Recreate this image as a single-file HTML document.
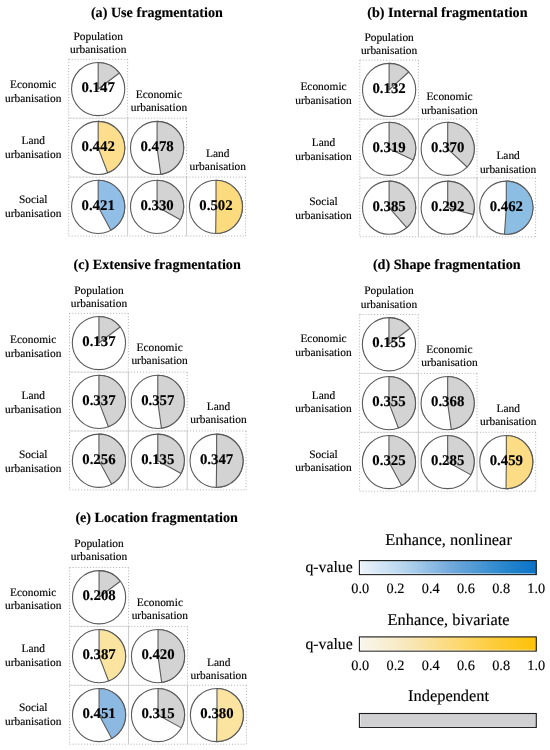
<!DOCTYPE html>
<html><head><meta charset="utf-8"><style>
html,body{margin:0;padding:0;background:#fff;width:550px;height:750px;overflow:hidden;}
svg{display:block;will-change:transform;}
text{font-family:"Liberation Serif", serif;text-rendering:geometricPrecision;}
.uh,.uv{stroke:#a4a4a4;stroke-width:0.85;stroke-dasharray:1 1.9;}
.sh{stroke:#a8a8a8;stroke-width:0.9;stroke-dasharray:0.8 0.65;}
.sv{stroke:#cbcbcb;stroke-width:1;}
text{stroke:#000;stroke-width:0.15px;paint-order:stroke;}
</style></head><body>
<svg width="550" height="750" viewBox="0 0 550 750" font-family='"Liberation Serif", serif' fill="#000"><defs>
<linearGradient id="gb" x1="0" x2="1" y1="0" y2="0"><stop offset="0" stop-color="#eef4fb"/><stop offset="0.26" stop-color="#b4d4ee"/><stop offset="0.51" stop-color="#73aadc"/><stop offset="0.82" stop-color="#2887cd"/><stop offset="1" stop-color="#0a72c8"/></linearGradient>
<linearGradient id="gy" x1="0" x2="1" y1="0" y2="0"><stop offset="0" stop-color="#f8f6ee"/><stop offset="0.26" stop-color="#f8e8bd"/><stop offset="0.51" stop-color="#fcdb7c"/><stop offset="0.82" stop-color="#fec92c"/><stop offset="1" stop-color="#fec207"/></linearGradient>
</defs><text x="90.88" y="17.10" font-size="14.15" font-weight="bold" text-anchor="start">(a) Use fragmentation</text>
<line x1="68.70" y1="59.30" x2="127.63" y2="59.30" class="uh"/>
<line x1="68.70" y1="118.20" x2="127.63" y2="118.20" class="sh"/>
<line x1="127.63" y1="118.20" x2="186.56" y2="118.20" class="uh"/>
<line x1="68.70" y1="177.10" x2="186.56" y2="177.10" class="sh"/>
<line x1="186.56" y1="177.10" x2="245.49" y2="177.10" class="uh"/>
<line x1="68.70" y1="236.00" x2="245.49" y2="236.00" class="uh"/>
<line x1="68.70" y1="59.30" x2="68.70" y2="236.00" class="uv"/>
<line x1="127.63" y1="59.30" x2="127.63" y2="118.20" class="uv"/>
<line x1="127.63" y1="118.20" x2="127.63" y2="236.00" class="sv"/>
<line x1="186.56" y1="118.20" x2="186.56" y2="177.10" class="uv"/>
<line x1="186.56" y1="177.10" x2="186.56" y2="236.00" class="sv"/>
<line x1="245.49" y1="177.10" x2="245.49" y2="236.00" class="uv"/>
<text x="98.17" y="39.60" font-size="11.42" text-anchor="middle">Population</text>
<text x="98.17" y="53.00" font-size="11.42" text-anchor="middle">urbanisation</text>
<text x="158.90" y="97.70" font-size="11.42" text-anchor="middle">Economic</text>
<text x="158.90" y="111.10" font-size="11.42" text-anchor="middle">urbanisation</text>
<text x="217.82" y="156.50" font-size="11.42" text-anchor="middle">Land</text>
<text x="217.82" y="169.90" font-size="11.42" text-anchor="middle">urbanisation</text>
<text x="33.20" y="87.90" font-size="11.42" text-anchor="middle">Economic</text>
<text x="33.20" y="101.70" font-size="11.42" text-anchor="middle">urbanisation</text>
<text x="33.20" y="144.20" font-size="11.42" text-anchor="middle">Land</text>
<text x="33.20" y="158.00" font-size="11.42" text-anchor="middle">urbanisation</text>
<text x="33.20" y="203.20" font-size="11.42" text-anchor="middle">Social</text>
<text x="33.20" y="217.00" font-size="11.42" text-anchor="middle">urbanisation</text>
<circle cx="98.17" cy="89.05" r="26.6" fill="#fff" stroke="#5a5a5a" stroke-width="1.1"/><path d="M98.17,89.05 L98.17,62.45 A26.6,26.6 0 0 1 119.39,73.01 Z" fill="#d3d3d4" stroke="#5a5a5a" stroke-width="1.1" stroke-linejoin="round"/>
<text x="98.17" y="91.95" font-size="14.8" font-weight="bold" text-anchor="middle">0.147</text>
<circle cx="98.17" cy="147.95" r="26.6" fill="#fff" stroke="#5a5a5a" stroke-width="1.1"/><path d="M98.17,147.95 L98.17,121.35 A26.6,26.6 0 0 1 107.65,172.80 Z" fill="#fcde8c" stroke="#5a5a5a" stroke-width="1.1" stroke-linejoin="round"/>
<text x="98.17" y="150.85" font-size="14.8" font-weight="bold" text-anchor="middle">0.442</text>
<circle cx="157.09" cy="147.95" r="26.6" fill="#fff" stroke="#5a5a5a" stroke-width="1.1"/><path d="M157.09,147.95 L157.09,121.35 A26.6,26.6 0 0 1 160.76,174.30 Z" fill="#d3d3d4" stroke="#5a5a5a" stroke-width="1.1" stroke-linejoin="round"/>
<text x="157.09" y="150.85" font-size="14.8" font-weight="bold" text-anchor="middle">0.478</text>
<circle cx="98.17" cy="206.85" r="26.6" fill="#fff" stroke="#5a5a5a" stroke-width="1.1"/><path d="M98.17,206.85 L98.17,180.25 A26.6,26.6 0 0 1 110.83,230.24 Z" fill="#90bee6" stroke="#5a5a5a" stroke-width="1.1" stroke-linejoin="round"/>
<text x="98.17" y="209.75" font-size="14.8" font-weight="bold" text-anchor="middle">0.421</text>
<circle cx="157.09" cy="206.85" r="26.6" fill="#fff" stroke="#5a5a5a" stroke-width="1.1"/><path d="M157.09,206.85 L157.09,180.25 A26.6,26.6 0 0 1 180.40,219.66 Z" fill="#d3d3d4" stroke="#5a5a5a" stroke-width="1.1" stroke-linejoin="round"/>
<text x="157.09" y="209.75" font-size="14.8" font-weight="bold" text-anchor="middle">0.330</text>
<circle cx="216.02" cy="206.85" r="26.6" fill="#fff" stroke="#5a5a5a" stroke-width="1.1"/><path d="M216.02,206.85 L216.02,180.25 A26.6,26.6 0 1 1 215.69,233.45 Z" fill="#fcda7e" stroke="#5a5a5a" stroke-width="1.1" stroke-linejoin="round"/>
<text x="216.02" y="209.75" font-size="14.8" font-weight="bold" text-anchor="middle">0.502</text>
<text x="367.28" y="16.70" font-size="14.15" font-weight="bold" text-anchor="start">(b) Internal fragmentation</text>
<line x1="359.80" y1="60.20" x2="418.40" y2="60.20" class="uh"/>
<line x1="359.80" y1="119.07" x2="418.40" y2="119.07" class="sh"/>
<line x1="418.40" y1="119.07" x2="477.00" y2="119.07" class="uh"/>
<line x1="359.80" y1="177.94" x2="477.00" y2="177.94" class="sh"/>
<line x1="477.00" y1="177.94" x2="535.60" y2="177.94" class="uh"/>
<line x1="359.80" y1="236.81" x2="535.60" y2="236.81" class="uh"/>
<line x1="359.80" y1="60.20" x2="359.80" y2="236.81" class="uv"/>
<line x1="418.40" y1="60.20" x2="418.40" y2="119.07" class="uv"/>
<line x1="418.40" y1="119.07" x2="418.40" y2="236.81" class="sv"/>
<line x1="477.00" y1="119.07" x2="477.00" y2="177.94" class="uv"/>
<line x1="477.00" y1="177.94" x2="477.00" y2="236.81" class="sv"/>
<line x1="535.60" y1="177.94" x2="535.60" y2="236.81" class="uv"/>
<text x="389.10" y="40.50" font-size="11.42" text-anchor="middle">Population</text>
<text x="389.10" y="53.90" font-size="11.42" text-anchor="middle">urbanisation</text>
<text x="449.50" y="100.47" font-size="11.42" text-anchor="middle">Economic</text>
<text x="449.50" y="113.87" font-size="11.42" text-anchor="middle">urbanisation</text>
<text x="508.10" y="159.24" font-size="11.42" text-anchor="middle">Land</text>
<text x="508.10" y="172.64" font-size="11.42" text-anchor="middle">urbanisation</text>
<text x="323.50" y="89.70" font-size="11.42" text-anchor="middle">Economic</text>
<text x="323.50" y="103.50" font-size="11.42" text-anchor="middle">urbanisation</text>
<text x="323.50" y="146.00" font-size="11.42" text-anchor="middle">Land</text>
<text x="323.50" y="159.80" font-size="11.42" text-anchor="middle">urbanisation</text>
<text x="323.50" y="205.00" font-size="11.42" text-anchor="middle">Social</text>
<text x="323.50" y="218.80" font-size="11.42" text-anchor="middle">urbanisation</text>
<circle cx="389.10" cy="89.94" r="26.6" fill="#fff" stroke="#5a5a5a" stroke-width="1.1"/><path d="M389.10,89.94 L389.10,63.34 A26.6,26.6 0 0 1 408.72,71.97 Z" fill="#d3d3d4" stroke="#5a5a5a" stroke-width="1.1" stroke-linejoin="round"/>
<text x="389.10" y="92.84" font-size="14.8" font-weight="bold" text-anchor="middle">0.132</text>
<circle cx="389.10" cy="148.81" r="26.6" fill="#fff" stroke="#5a5a5a" stroke-width="1.1"/><path d="M389.10,148.81 L389.10,122.21 A26.6,26.6 0 0 1 413.24,159.98 Z" fill="#d3d3d4" stroke="#5a5a5a" stroke-width="1.1" stroke-linejoin="round"/>
<text x="389.10" y="151.71" font-size="14.8" font-weight="bold" text-anchor="middle">0.319</text>
<circle cx="447.70" cy="148.81" r="26.6" fill="#fff" stroke="#5a5a5a" stroke-width="1.1"/><path d="M447.70,148.81 L447.70,122.21 A26.6,26.6 0 0 1 467.09,167.01 Z" fill="#d3d3d4" stroke="#5a5a5a" stroke-width="1.1" stroke-linejoin="round"/>
<text x="447.70" y="151.71" font-size="14.8" font-weight="bold" text-anchor="middle">0.370</text>
<circle cx="389.10" cy="207.68" r="26.6" fill="#fff" stroke="#5a5a5a" stroke-width="1.1"/><path d="M389.10,207.68 L389.10,181.08 A26.6,26.6 0 0 1 406.69,227.63 Z" fill="#d3d3d4" stroke="#5a5a5a" stroke-width="1.1" stroke-linejoin="round"/>
<text x="389.10" y="210.58" font-size="14.8" font-weight="bold" text-anchor="middle">0.385</text>
<circle cx="447.70" cy="207.68" r="26.6" fill="#fff" stroke="#5a5a5a" stroke-width="1.1"/><path d="M447.70,207.68 L447.70,181.08 A26.6,26.6 0 0 1 473.38,214.61 Z" fill="#d3d3d4" stroke="#5a5a5a" stroke-width="1.1" stroke-linejoin="round"/>
<text x="447.70" y="210.58" font-size="14.8" font-weight="bold" text-anchor="middle">0.292</text>
<circle cx="506.30" cy="207.68" r="26.6" fill="#fff" stroke="#5a5a5a" stroke-width="1.1"/><path d="M506.30,207.68 L506.30,181.08 A26.6,26.6 0 1 1 504.46,234.21 Z" fill="#8cbee4" stroke="#5a5a5a" stroke-width="1.1" stroke-linejoin="round"/>
<text x="506.30" y="210.58" font-size="14.8" font-weight="bold" text-anchor="middle">0.462</text>
<text x="73.48" y="269.00" font-size="14.15" font-weight="bold" text-anchor="start">(c) Extensive fragmentation</text>
<line x1="69.50" y1="313.30" x2="128.35" y2="313.30" class="uh"/>
<line x1="69.50" y1="372.15" x2="128.35" y2="372.15" class="sh"/>
<line x1="128.35" y1="372.15" x2="187.20" y2="372.15" class="uh"/>
<line x1="69.50" y1="431.00" x2="187.20" y2="431.00" class="sh"/>
<line x1="187.20" y1="431.00" x2="246.05" y2="431.00" class="uh"/>
<line x1="69.50" y1="489.85" x2="246.05" y2="489.85" class="uh"/>
<line x1="69.50" y1="313.30" x2="69.50" y2="489.85" class="uv"/>
<line x1="128.35" y1="313.30" x2="128.35" y2="372.15" class="uv"/>
<line x1="128.35" y1="372.15" x2="128.35" y2="489.85" class="sv"/>
<line x1="187.20" y1="372.15" x2="187.20" y2="431.00" class="uv"/>
<line x1="187.20" y1="431.00" x2="187.20" y2="489.85" class="sv"/>
<line x1="246.05" y1="431.00" x2="246.05" y2="489.85" class="uv"/>
<text x="98.92" y="293.60" font-size="11.42" text-anchor="middle">Population</text>
<text x="98.92" y="307.00" font-size="11.42" text-anchor="middle">urbanisation</text>
<text x="159.58" y="350.95" font-size="11.42" text-anchor="middle">Economic</text>
<text x="159.58" y="364.35" font-size="11.42" text-anchor="middle">urbanisation</text>
<text x="218.43" y="409.80" font-size="11.42" text-anchor="middle">Land</text>
<text x="218.43" y="423.20" font-size="11.42" text-anchor="middle">urbanisation</text>
<text x="33.20" y="342.80" font-size="11.42" text-anchor="middle">Economic</text>
<text x="33.20" y="356.60" font-size="11.42" text-anchor="middle">urbanisation</text>
<text x="33.20" y="399.10" font-size="11.42" text-anchor="middle">Land</text>
<text x="33.20" y="412.90" font-size="11.42" text-anchor="middle">urbanisation</text>
<text x="33.20" y="458.10" font-size="11.42" text-anchor="middle">Social</text>
<text x="33.20" y="471.90" font-size="11.42" text-anchor="middle">urbanisation</text>
<circle cx="98.92" cy="343.03" r="26.6" fill="#fff" stroke="#5a5a5a" stroke-width="1.1"/><path d="M98.92,343.03 L98.92,316.43 A26.6,26.6 0 0 1 120.15,326.99 Z" fill="#d3d3d4" stroke="#5a5a5a" stroke-width="1.1" stroke-linejoin="round"/>
<text x="98.92" y="345.93" font-size="14.8" font-weight="bold" text-anchor="middle">0.137</text>
<circle cx="98.92" cy="401.88" r="26.6" fill="#fff" stroke="#5a5a5a" stroke-width="1.1"/><path d="M98.92,401.88 L98.92,375.28 A26.6,26.6 0 0 1 108.41,426.73 Z" fill="#d3d3d4" stroke="#5a5a5a" stroke-width="1.1" stroke-linejoin="round"/>
<text x="98.92" y="404.78" font-size="14.8" font-weight="bold" text-anchor="middle">0.337</text>
<circle cx="157.78" cy="401.88" r="26.6" fill="#fff" stroke="#5a5a5a" stroke-width="1.1"/><path d="M157.78,401.88 L157.78,375.28 A26.6,26.6 0 0 1 161.44,428.22 Z" fill="#d3d3d4" stroke="#5a5a5a" stroke-width="1.1" stroke-linejoin="round"/>
<text x="157.78" y="404.78" font-size="14.8" font-weight="bold" text-anchor="middle">0.357</text>
<circle cx="98.92" cy="460.73" r="26.6" fill="#fff" stroke="#5a5a5a" stroke-width="1.1"/><path d="M98.92,460.73 L98.92,434.12 A26.6,26.6 0 0 1 111.59,484.11 Z" fill="#d3d3d4" stroke="#5a5a5a" stroke-width="1.1" stroke-linejoin="round"/>
<text x="98.92" y="463.62" font-size="14.8" font-weight="bold" text-anchor="middle">0.256</text>
<circle cx="157.78" cy="460.73" r="26.6" fill="#fff" stroke="#5a5a5a" stroke-width="1.1"/><path d="M157.78,460.73 L157.78,434.12 A26.6,26.6 0 0 1 181.08,473.54 Z" fill="#d3d3d4" stroke="#5a5a5a" stroke-width="1.1" stroke-linejoin="round"/>
<text x="157.78" y="463.62" font-size="14.8" font-weight="bold" text-anchor="middle">0.135</text>
<circle cx="216.62" cy="460.73" r="26.6" fill="#fff" stroke="#5a5a5a" stroke-width="1.1"/><path d="M216.62,460.73 L216.62,434.12 A26.6,26.6 0 1 1 216.29,487.32 Z" fill="#d3d3d4" stroke="#5a5a5a" stroke-width="1.1" stroke-linejoin="round"/>
<text x="216.62" y="463.62" font-size="14.8" font-weight="bold" text-anchor="middle">0.347</text>
<text x="372.88" y="269.00" font-size="14.15" font-weight="bold" text-anchor="start">(d) Shape fragmentation</text>
<line x1="359.60" y1="314.50" x2="418.30" y2="314.50" class="uh"/>
<line x1="359.60" y1="373.40" x2="418.30" y2="373.40" class="sh"/>
<line x1="418.30" y1="373.40" x2="477.00" y2="373.40" class="uh"/>
<line x1="359.60" y1="432.30" x2="477.00" y2="432.30" class="sh"/>
<line x1="477.00" y1="432.30" x2="535.70" y2="432.30" class="uh"/>
<line x1="359.60" y1="491.20" x2="535.70" y2="491.20" class="uh"/>
<line x1="359.60" y1="314.50" x2="359.60" y2="491.20" class="uv"/>
<line x1="418.30" y1="314.50" x2="418.30" y2="373.40" class="uv"/>
<line x1="418.30" y1="373.40" x2="418.30" y2="491.20" class="sv"/>
<line x1="477.00" y1="373.40" x2="477.00" y2="432.30" class="uv"/>
<line x1="477.00" y1="432.30" x2="477.00" y2="491.20" class="sv"/>
<line x1="535.70" y1="432.30" x2="535.70" y2="491.20" class="uv"/>
<text x="388.95" y="294.30" font-size="11.42" text-anchor="middle">Population</text>
<text x="388.95" y="307.70" font-size="11.42" text-anchor="middle">urbanisation</text>
<text x="449.45" y="352.70" font-size="11.42" text-anchor="middle">Economic</text>
<text x="449.45" y="366.10" font-size="11.42" text-anchor="middle">urbanisation</text>
<text x="508.15" y="411.60" font-size="11.42" text-anchor="middle">Land</text>
<text x="508.15" y="425.00" font-size="11.42" text-anchor="middle">urbanisation</text>
<text x="323.50" y="342.20" font-size="11.42" text-anchor="middle">Economic</text>
<text x="323.50" y="356.00" font-size="11.42" text-anchor="middle">urbanisation</text>
<text x="323.50" y="398.50" font-size="11.42" text-anchor="middle">Land</text>
<text x="323.50" y="412.30" font-size="11.42" text-anchor="middle">urbanisation</text>
<text x="323.50" y="457.50" font-size="11.42" text-anchor="middle">Social</text>
<text x="323.50" y="471.30" font-size="11.42" text-anchor="middle">urbanisation</text>
<circle cx="388.95" cy="344.25" r="26.6" fill="#fff" stroke="#5a5a5a" stroke-width="1.1"/><path d="M388.95,344.25 L388.95,317.65 A26.6,26.6 0 0 1 410.17,328.21 Z" fill="#d3d3d4" stroke="#5a5a5a" stroke-width="1.1" stroke-linejoin="round"/>
<text x="388.95" y="347.15" font-size="14.8" font-weight="bold" text-anchor="middle">0.155</text>
<circle cx="388.95" cy="403.15" r="26.6" fill="#fff" stroke="#5a5a5a" stroke-width="1.1"/><path d="M388.95,403.15 L388.95,376.55 A26.6,26.6 0 0 1 398.43,428.00 Z" fill="#d3d3d4" stroke="#5a5a5a" stroke-width="1.1" stroke-linejoin="round"/>
<text x="388.95" y="406.05" font-size="14.8" font-weight="bold" text-anchor="middle">0.355</text>
<circle cx="447.65" cy="403.15" r="26.6" fill="#fff" stroke="#5a5a5a" stroke-width="1.1"/><path d="M447.65,403.15 L447.65,376.55 A26.6,26.6 0 0 1 451.32,429.50 Z" fill="#d3d3d4" stroke="#5a5a5a" stroke-width="1.1" stroke-linejoin="round"/>
<text x="447.65" y="406.05" font-size="14.8" font-weight="bold" text-anchor="middle">0.368</text>
<circle cx="388.95" cy="462.05" r="26.6" fill="#fff" stroke="#5a5a5a" stroke-width="1.1"/><path d="M388.95,462.05 L388.95,435.45 A26.6,26.6 0 0 1 401.62,485.44 Z" fill="#d3d3d4" stroke="#5a5a5a" stroke-width="1.1" stroke-linejoin="round"/>
<text x="388.95" y="464.95" font-size="14.8" font-weight="bold" text-anchor="middle">0.325</text>
<circle cx="447.65" cy="462.05" r="26.6" fill="#fff" stroke="#5a5a5a" stroke-width="1.1"/><path d="M447.65,462.05 L447.65,435.45 A26.6,26.6 0 0 1 470.96,474.86 Z" fill="#d3d3d4" stroke="#5a5a5a" stroke-width="1.1" stroke-linejoin="round"/>
<text x="447.65" y="464.95" font-size="14.8" font-weight="bold" text-anchor="middle">0.285</text>
<circle cx="506.35" cy="462.05" r="26.6" fill="#fff" stroke="#5a5a5a" stroke-width="1.1"/><path d="M506.35,462.05 L506.35,435.45 A26.6,26.6 0 1 1 506.02,488.65 Z" fill="#fcdc84" stroke="#5a5a5a" stroke-width="1.1" stroke-linejoin="round"/>
<text x="506.35" y="464.95" font-size="14.8" font-weight="bold" text-anchor="middle">0.459</text>
<text x="75.38" y="522.40" font-size="14.15" font-weight="bold" text-anchor="start">(e) Location fragmentation</text>
<line x1="69.60" y1="567.50" x2="128.55" y2="567.50" class="uh"/>
<line x1="69.60" y1="626.40" x2="128.55" y2="626.40" class="sh"/>
<line x1="128.55" y1="626.40" x2="187.50" y2="626.40" class="uh"/>
<line x1="69.60" y1="685.30" x2="187.50" y2="685.30" class="sh"/>
<line x1="187.50" y1="685.30" x2="246.45" y2="685.30" class="uh"/>
<line x1="69.60" y1="744.20" x2="246.45" y2="744.20" class="uh"/>
<line x1="69.60" y1="567.50" x2="69.60" y2="744.20" class="uv"/>
<line x1="128.55" y1="567.50" x2="128.55" y2="626.40" class="uv"/>
<line x1="128.55" y1="626.40" x2="128.55" y2="744.20" class="sv"/>
<line x1="187.50" y1="626.40" x2="187.50" y2="685.30" class="uv"/>
<line x1="187.50" y1="685.30" x2="187.50" y2="744.20" class="sv"/>
<line x1="246.45" y1="685.30" x2="246.45" y2="744.20" class="uv"/>
<text x="99.07" y="546.80" font-size="11.42" text-anchor="middle">Population</text>
<text x="99.07" y="560.20" font-size="11.42" text-anchor="middle">urbanisation</text>
<text x="159.83" y="605.90" font-size="11.42" text-anchor="middle">Economic</text>
<text x="159.83" y="619.30" font-size="11.42" text-anchor="middle">urbanisation</text>
<text x="218.78" y="665.50" font-size="11.42" text-anchor="middle">Land</text>
<text x="218.78" y="678.90" font-size="11.42" text-anchor="middle">urbanisation</text>
<text x="33.20" y="595.60" font-size="11.42" text-anchor="middle">Economic</text>
<text x="33.20" y="609.40" font-size="11.42" text-anchor="middle">urbanisation</text>
<text x="33.20" y="651.90" font-size="11.42" text-anchor="middle">Land</text>
<text x="33.20" y="665.70" font-size="11.42" text-anchor="middle">urbanisation</text>
<text x="33.20" y="710.90" font-size="11.42" text-anchor="middle">Social</text>
<text x="33.20" y="724.70" font-size="11.42" text-anchor="middle">urbanisation</text>
<circle cx="99.07" cy="597.25" r="26.6" fill="#fff" stroke="#5a5a5a" stroke-width="1.1"/><path d="M99.07,597.25 L99.07,570.65 A26.6,26.6 0 0 1 120.30,581.21 Z" fill="#d3d3d4" stroke="#5a5a5a" stroke-width="1.1" stroke-linejoin="round"/>
<text x="99.07" y="600.15" font-size="14.8" font-weight="bold" text-anchor="middle">0.208</text>
<circle cx="99.07" cy="656.15" r="26.6" fill="#fff" stroke="#5a5a5a" stroke-width="1.1"/><path d="M99.07,656.15 L99.07,629.55 A26.6,26.6 0 0 1 108.56,681.00 Z" fill="#fae4a0" stroke="#5a5a5a" stroke-width="1.1" stroke-linejoin="round"/>
<text x="99.07" y="659.05" font-size="14.8" font-weight="bold" text-anchor="middle">0.387</text>
<circle cx="158.03" cy="656.15" r="26.6" fill="#fff" stroke="#5a5a5a" stroke-width="1.1"/><path d="M158.03,656.15 L158.03,629.55 A26.6,26.6 0 0 1 161.69,682.50 Z" fill="#d3d3d4" stroke="#5a5a5a" stroke-width="1.1" stroke-linejoin="round"/>
<text x="158.03" y="659.05" font-size="14.8" font-weight="bold" text-anchor="middle">0.420</text>
<circle cx="99.07" cy="715.05" r="26.6" fill="#fff" stroke="#5a5a5a" stroke-width="1.1"/><path d="M99.07,715.05 L99.07,688.45 A26.6,26.6 0 0 1 111.74,738.44 Z" fill="#8cb9e1" stroke="#5a5a5a" stroke-width="1.1" stroke-linejoin="round"/>
<text x="99.07" y="717.95" font-size="14.8" font-weight="bold" text-anchor="middle">0.451</text>
<circle cx="158.03" cy="715.05" r="26.6" fill="#fff" stroke="#5a5a5a" stroke-width="1.1"/><path d="M158.03,715.05 L158.03,688.45 A26.6,26.6 0 0 1 181.33,727.86 Z" fill="#d3d3d4" stroke="#5a5a5a" stroke-width="1.1" stroke-linejoin="round"/>
<text x="158.03" y="717.95" font-size="14.8" font-weight="bold" text-anchor="middle">0.315</text>
<circle cx="216.97" cy="715.05" r="26.6" fill="#fff" stroke="#5a5a5a" stroke-width="1.1"/><path d="M216.97,715.05 L216.97,688.45 A26.6,26.6 0 1 1 216.64,741.65 Z" fill="#fae49f" stroke="#5a5a5a" stroke-width="1.1" stroke-linejoin="round"/>
<text x="216.97" y="717.95" font-size="14.8" font-weight="bold" text-anchor="middle">0.380</text>
<text x="448.60" y="544.70" font-size="16.4" text-anchor="middle">Enhance, nonlinear</text><rect x="359.4" y="560.6" width="176.9" height="14.0" fill="url(#gb)" stroke="#1a1a1a" stroke-width="1.1"/><path d="M360.5,561.2 V573.6 H535" fill="none" stroke="#fff" stroke-opacity="0.6" stroke-width="0.8"/><text x="352.70" y="572.30" font-size="15.75" text-anchor="end">q-value</text><text x="360.30" y="592.50" font-size="14.3" text-anchor="middle">0.0</text><text x="395.50" y="592.50" font-size="14.3" text-anchor="middle">0.2</text><text x="430.70" y="592.50" font-size="14.3" text-anchor="middle">0.4</text><text x="465.90" y="592.50" font-size="14.3" text-anchor="middle">0.6</text><text x="501.10" y="592.50" font-size="14.3" text-anchor="middle">0.8</text><text x="536.30" y="592.50" font-size="14.3" text-anchor="middle">1.0</text>
<text x="448.60" y="624.60" font-size="16.4" text-anchor="middle">Enhance, bivariate</text><rect x="359.4" y="636.9" width="176.9" height="14.2" fill="url(#gy)" stroke="#1a1a1a" stroke-width="1.1"/><path d="M360.5,637.5 V650.1 H535" fill="none" stroke="#fff" stroke-opacity="0.6" stroke-width="0.8"/><text x="352.70" y="648.60" font-size="15.75" text-anchor="end">q-value</text><text x="360.30" y="670.00" font-size="14.3" text-anchor="middle">0.0</text><text x="395.50" y="670.00" font-size="14.3" text-anchor="middle">0.2</text><text x="430.70" y="670.00" font-size="14.3" text-anchor="middle">0.4</text><text x="465.90" y="670.00" font-size="14.3" text-anchor="middle">0.6</text><text x="501.10" y="670.00" font-size="14.3" text-anchor="middle">0.8</text><text x="536.30" y="670.00" font-size="14.3" text-anchor="middle">1.0</text>
<text x="448.60" y="700.90" font-size="16.4" text-anchor="middle">Independent</text><rect x="359.4" y="713.5" width="176.9" height="13.9" fill="#d0d0d2" stroke="#1a1a1a" stroke-width="1.1"/><path d="M360.5,714.1 V726.4 H535" fill="none" stroke="#fff" stroke-opacity="0.6" stroke-width="0.8"/></svg>
</body></html>
